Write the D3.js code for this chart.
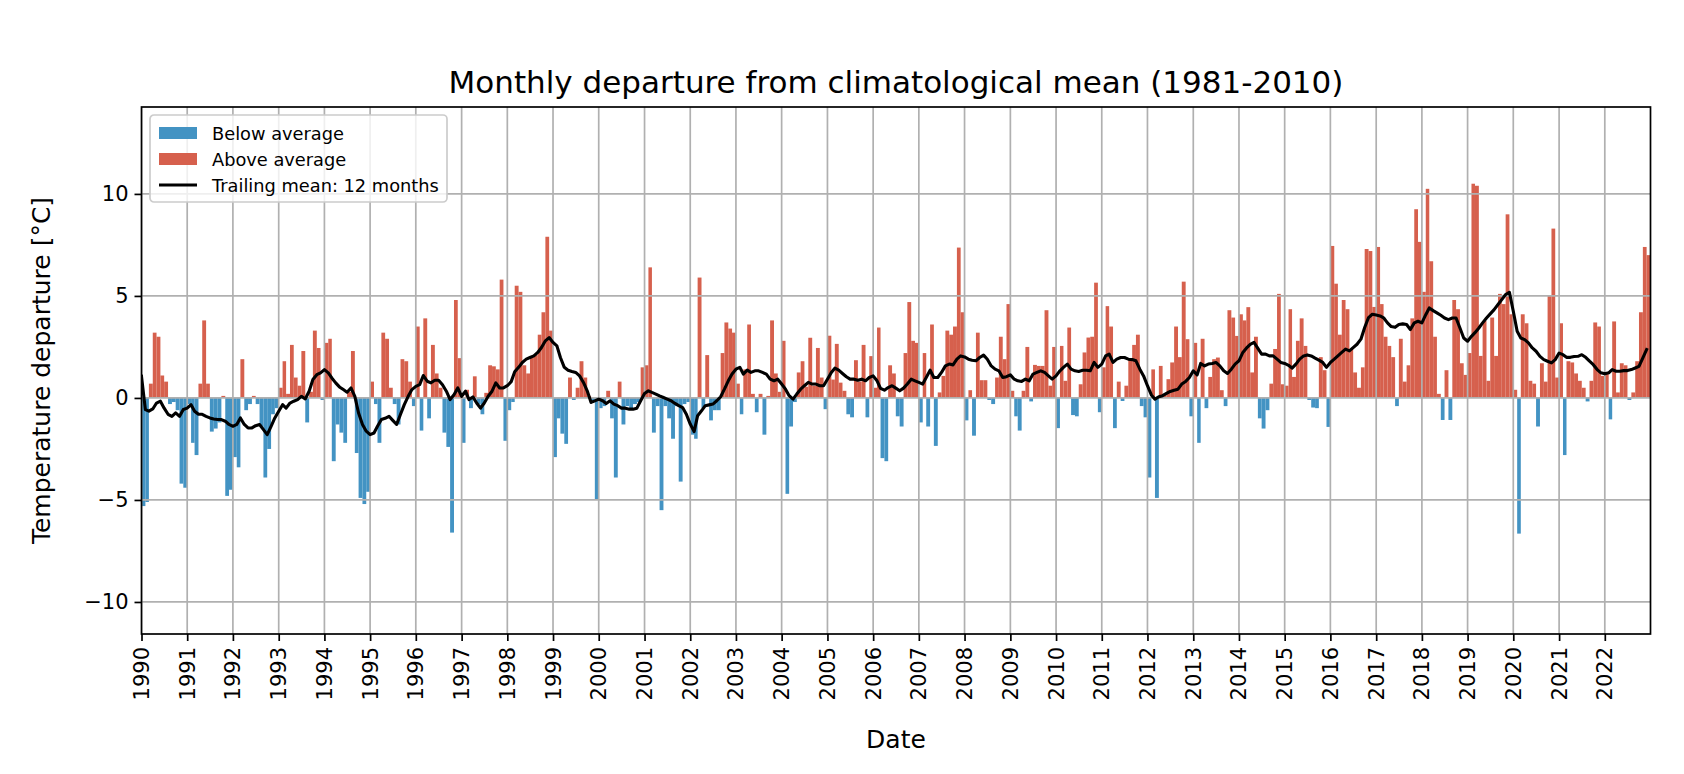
<!DOCTYPE html>
<html>
<head>
<meta charset="utf-8">
<script src="https://cdn.jsdelivr.net/npm/d3@7"></script>
<style>
  body { margin: 0; background: #fff; }
  svg { display: block; font-family: "DejaVu Sans", sans-serif; }
</style>
</head>
<body>
<svg id="chart" width="1684" height="774"></svg>
<script>
// Monthly departures [°C], one row per year, Jan..Dec, 1990..2022
const departures = [
  [-5.3, -5.1, 0.7, 3.2, 3.0, 1.1, 0.8, -0.3, -0.2, -0.6, -4.2, -4.4],
  [-0.3, -2.2, -2.8, 0.7, 3.8, 0.7, -1.65, -1.5, -1.2, 0.1, -4.8, -4.5],
  [-2.9, -3.4, 1.9, -0.6, -0.3, 0.1, -0.3, -1.4, -3.9, -2.5, -0.8, -0.5],
  [0.5, 1.8, 0.2, 2.6, 1.0, 0.6, 2.3, -1.2, 0.3, 3.3, 2.45, -0.1],
  [2.7, 2.9, -3.1, -1.3, -1.7, -2.2, 0.3, 2.3, -2.7, -4.9, -5.2, -4.6],
  [0.8, -0.3, -2.2, 3.2, 2.9, 0.5, -0.3, -1.3, 1.9, 1.8, 0.8, -0.4],
  [3.5, -1.6, 3.9, -1.0, 2.6, 1.2, 0.5, -1.7, -2.4, -6.6, 4.8, 1.95],
  [-2.2, 0.4, -0.5, 1.06, -0.3, -0.8, 0.25, 1.6, 1.55, 1.4, 5.8, -2.1],
  [-0.6, -0.2, 5.5, 5.2, 1.6, 1.2, 2.0, 2.1, 3.1, 4.2, 7.9, 3.3],
  [-2.9, -1.0, -1.75, -2.25, 1.0, -0.1, 0.5, 1.8, 1.0, 0.1, -0.2, -5.0],
  [-0.5, -0.4, 0.35, -1.0, -3.9, 0.8, -1.3, -0.4, -0.5, -0.3, -0.2, 1.5],
  [1.6, 6.4, -1.7, -0.4, -5.5, -0.4, -1.0, -2.0, -0.4, -4.1, -0.3, -0.2],
  [-1.8, -2.0, 5.9, -0.5, 2.1, -1.1, -0.6, -0.6, 2.2, 3.7, 3.4, 3.2],
  [0.7, -0.8, 1.4, 3.6, 0.2, -0.7, 0.2, -1.8, 0.1, 3.8, 1.2, 0.3],
  [2.8, -4.7, -1.4, -0.2, 1.25, 1.8, 0.55, 2.95, 0.6, 2.45, 1.0, -0.55],
  [3.05, 0.9, 2.65, 0.75, 0.35, -0.8, -0.95, 1.85, 0.8, 2.6, -0.95, 2.05],
  [0.5, 3.45, -2.95, -3.1, 1.6, 1.2, -0.9, -1.4, 2.2, 4.7, 2.8, 2.7],
  [-1.2, 2.2, -1.4, 3.6, -2.35, 0.27, 1.08, 3.3, 3.1, 3.5, 7.37, 4.2],
  [-1.1, 0.38, -1.85, 3.2, 0.87, 0.87, -0.1, -0.3, 1.0, 3.0, 1.9, 4.6],
  [0.35, -0.9, -1.6, 0.35, 2.5, -0.17, 1.62, 1.57, 1.57, 4.3, 0.6, 2.5],
  [-1.48, 2.55, 0.84, 3.45, -0.84, -0.9, 0.67, 2.23, 2.96, 3.0, 5.65, -0.7],
  [1.5, 4.5, 3.5, -1.48, 0.8, -0.15, 0.6, 1.9, 2.6, 3.1, -0.4, -0.95],
  [-3.9, 1.4, -4.9, 1.57, 0.2, 0.92, 1.74, 3.5, 2.0, 5.7, 2.88, -0.9],
  [2.7, -2.2, 2.9, -0.5, 1.03, 1.9, 1.98, 0.38, -0.4, 4.3, 3.94, 3.04],
  [4.1, 3.8, 4.45, 1.25, 3.0, -1.0, -1.5, -0.6, 0.7, 2.4, 5.1, 0.67],
  [0.6, 4.35, 1.03, 2.8, 3.9, 2.55, -0.1, -0.47, -0.5, 2.0, 1.36, -1.42],
  [7.45, 5.6, 3.1, 4.8, 4.35, 2.4, 1.25, 0.5, 1.5, 7.3, 7.2, 4.46],
  [7.4, 4.6, 3.0, 2.55, 2.0, -0.4, 2.9, 0.8, 1.6, 3.9, 9.25, 7.65],
  [5.2, 10.25, 6.7, 3.0, 0.2, -1.08, 1.36, -1.08, 4.8, 4.35, 1.7, 1.13],
  [2.2, 10.5, 10.4, 2.06, 3.77, 0.84, 3.94, 2.06, 5.1, 4.6, 9.0, 4.1],
  [0.4, -6.65, 4.1, 3.66, 0.84, 0.7, -1.4, 1.7, 0.8, 5.0, 8.3, 1.0],
  [3.66, -2.8, 1.8, 1.74, 1.2, 0.84, 0.5, -0.17, 0.84, 3.7, 3.5, 1.08],
  [1.25, -1.05, 3.75, 0.27, 1.7, 1.6, -0.1, 0.27, 1.8, 4.2, 7.4, 7.0]
];

// 12-month trailing mean [°C], same layout
const trailingMean = [
  [1.06, -0.57, -0.65, -0.54, -0.25, -0.16, -0.5, -0.8, -0.9, -0.73, -0.9, -0.57],
  [-0.5, -0.33, -0.65, -0.8, -0.8, -0.9, -0.98, -1.03, -1.06, -1.06, -1.14, -1.3],
  [-1.39, -1.3, -0.98, -1.3, -1.47, -1.47, -1.36, -1.3, -1.55, -1.8, -1.39, -0.98],
  [-0.65, -0.33, -0.5, -0.25, -0.16, -0.08, 0.08, -0.05, 0.33, 0.9, 1.14, 1.23],
  [1.39, 1.23, 0.98, 0.74, 0.54, 0.41, 0.28, 0.49, 0.08, -0.74, -1.3, -1.63],
  [-1.8, -1.72, -1.39, -1.06, -1.0, -0.9, -1.1, -1.3, -0.8, -0.33, 0.08, 0.41],
  [0.57, 0.65, 1.1, 0.82, 0.74, 0.87, 0.87, 0.65, 0.33, -0.08, 0.16, 0.49],
  [0.08, 0.33, -0.08, 0.05, -0.25, -0.5, -0.25, 0.08, 0.33, 0.74, 0.49, 0.49],
  [0.6, 0.8, 1.28, 1.5, 1.74, 1.9, 1.98, 2.06, 2.23, 2.47, 2.8, 2.96],
  [2.72, 2.55, 1.98, 1.5, 1.36, 1.3, 1.25, 1.08, 0.76, 0.35, -0.22, -0.14],
  [-0.06, -0.14, -0.27, -0.14, -0.3, -0.38, -0.5, -0.5, -0.55, -0.55, -0.5, -0.14],
  [0.22, 0.35, 0.27, 0.19, 0.1, 0.02, -0.06, -0.14, -0.27, -0.38, -0.47, -0.8],
  [-1.28, -1.65, -0.87, -0.63, -0.38, -0.34, -0.3, -0.14, 0.06, 0.43, 0.84, 1.17],
  [1.41, 1.5, 1.17, 1.36, 1.25, 1.33, 1.33, 1.25, 1.17, 0.92, 0.84, 0.92],
  [0.68, 0.43, 0.11, -0.06, 0.19, 0.43, 0.6, 0.76, 0.68, 0.68, 0.6, 0.6],
  [0.92, 1.25, 1.46, 1.36, 1.2, 1.04, 0.92, 0.92, 0.87, 0.92, 0.84, 1.0],
  [1.08, 0.84, 0.47, 0.38, 0.51, 0.6, 0.48, 0.35, 0.48, 0.68, 0.92, 0.84],
  [0.76, 0.68, 1.0, 1.36, 1.0, 1.0, 1.25, 1.57, 1.66, 1.62, 1.9, 2.06],
  [2.01, 1.9, 1.85, 1.82, 1.98, 2.1, 1.9, 1.57, 1.41, 1.33, 1.0, 1.04],
  [1.13, 0.92, 0.84, 0.81, 0.92, 0.84, 1.17, 1.25, 1.33, 1.25, 1.08, 0.92],
  [1.08, 1.33, 1.5, 1.66, 1.41, 1.33, 1.3, 1.36, 1.36, 1.33, 1.74, 1.5],
  [1.66, 2.06, 2.15, 1.74, 1.9, 1.98, 1.98, 1.9, 1.88, 1.82, 1.41, 1.08],
  [0.6, 0.15, -0.06, 0.06, 0.11, 0.22, 0.32, 0.38, 0.43, 0.68, 0.81, 1.0],
  [1.33, 1.13, 1.69, 1.57, 1.66, 1.69, 1.74, 1.57, 1.33, 1.2, 1.41, 1.66],
  [1.82, 2.23, 2.44, 2.63, 2.72, 2.43, 2.15, 2.15, 2.06, 2.06, 1.9, 1.74],
  [1.69, 1.6, 1.46, 1.66, 1.9, 2.06, 2.11, 2.06, 1.95, 1.85, 1.74, 1.5],
  [1.74, 1.9, 2.06, 2.23, 2.39, 2.31, 2.47, 2.63, 2.88, 3.45, 3.94, 4.1],
  [4.06, 4.02, 3.93, 3.68, 3.5, 3.46, 3.6, 3.63, 3.6, 3.35, 3.68, 3.76],
  [3.68, 4.08, 4.41, 4.28, 4.17, 4.05, 3.92, 3.84, 3.92, 3.92, 3.43, 2.94],
  [2.78, 3.02, 3.2, 3.43, 3.68, 3.92, 4.12, 4.33, 4.58, 4.82, 5.07, 5.18],
  [4.25, 3.27, 2.94, 2.86, 2.7, 2.45, 2.29, 2.04, 1.88, 1.8, 1.72, 1.88],
  [2.2, 2.12, 1.99, 1.99, 2.03, 2.04, 2.12, 1.99, 1.8, 1.63, 1.39, 1.23],
  [1.18, 1.23, 1.39, 1.31, 1.31, 1.34, 1.34, 1.39, 1.47, 1.55, 1.96, 2.37]
];

const startDate = new Date(1990, 0, 1);
const endDate = new Date(2023, 0, 1);
const yTicks = [-10, -5, 0, 5, 10];
const yDomain = [-11.57, 14.26];
const legendLabels = ["Below average", "Above average", "Trailing mean: 12 months"];

const titleText = "Monthly departure from climatological mean (1981-2010)";
const xLabelText = "Date";
const yLabelText = "Temperature departure [°C]";

const COLOR_BELOW = "#4393c3";
const COLOR_ABOVE = "#d6604d";
const GRID_COLOR = "#b0b0b0";

// Plot area (pixels)
const plot = { left: 141.5, right: 1650.5, top: 107, bottom: 634 };

const svg = d3.select("#chart");

const months = d3.timeMonth.range(startDate, endDate);
const years = d3.timeYear.range(startDate, endDate);

const values = departures.flat();
const meanValues = trailingMean.flat();
const series = months.map((d, i) => ({ date: d, value: values[i], mean: meanValues[i] }));

const x = d3.scaleTime().domain([startDate, endDate]).range([plot.left, plot.right]);
const y = d3.scaleLinear().domain(yDomain).range([plot.bottom, plot.top]);

// Clip for plot content
svg.append("defs").append("clipPath").attr("id", "plot-clip")
  .append("rect")
  .attr("x", plot.left).attr("y", plot.top)
  .attr("width", plot.right - plot.left).attr("height", plot.bottom - plot.top);

const content = svg.append("g").attr("clip-path", "url(#plot-clip)");

// Bars
content.append("g").selectAll("rect")
  .data(series)
  .enter()
  .append("rect")
  .attr("x", d => x(d.date))
  .attr("width", d => x(d3.timeMonth.offset(d.date, 1)) - x(d.date))
  .attr("y", d => y(Math.max(0, d.value)))
  .attr("height", d => Math.abs(y(d.value) - y(0)))
  .attr("fill", d => d.value < 0 ? COLOR_BELOW : COLOR_ABOVE);

// Grid (drawn above bars, like matplotlib)
const grid = content.append("g").attr("stroke", GRID_COLOR).attr("stroke-width", 1.7);
grid.selectAll("line.vgrid")
  .data(years)
  .enter()
  .append("line")
  .attr("class", "vgrid")
  .attr("x1", d => x(d)).attr("x2", d => x(d))
  .attr("y1", plot.top).attr("y2", plot.bottom);
grid.selectAll("line.hgrid")
  .data(yTicks)
  .enter()
  .append("line")
  .attr("class", "hgrid")
  .attr("x1", plot.left).attr("x2", plot.right)
  .attr("y1", d => y(d)).attr("y2", d => y(d));

// Trailing mean line
const line = d3.line()
  .x(d => x(d.date))
  .y(d => y(d.mean));

content.append("path")
  .datum(series)
  .attr("d", line)
  .attr("fill", "none")
  .attr("stroke", "#000")
  .attr("stroke-width", 3.1)
  .attr("stroke-linejoin", "round")
  .attr("stroke-linecap", "square");

// Axes
const xAxis = d3.axisBottom(x)
  .tickValues(years)
  .tickFormat(d3.timeFormat("%Y"))
  .tickSize(7)
  .tickPadding(6);

const gx = svg.append("g")
  .attr("transform", `translate(0,${plot.bottom})`)
  .call(xAxis);
gx.select(".domain").remove();
gx.selectAll(".tick line").attr("stroke", "#000").attr("stroke-width", 1.7);
gx.selectAll(".tick text")
  .attr("font-size", 21)
  .attr("font-family", "DejaVu Sans, sans-serif")
  .attr("fill", "#000")
  .attr("text-anchor", "end")
  .attr("dy", null)
  .attr("dominant-baseline", "central")
  .attr("transform", "translate(0,13) rotate(-90)")
  .attr("y", 0)
  .attr("x", 0);

const yAxis = d3.axisLeft(y)
  .tickValues(yTicks)
  .tickFormat(d => d < 0 ? "\u2212" + Math.abs(d) : String(d))
  .tickSize(7)
  .tickPadding(6);

const gy = svg.append("g")
  .attr("transform", `translate(${plot.left},0)`)
  .call(yAxis);
gy.select(".domain").remove();
gy.selectAll(".tick line").attr("stroke", "#000").attr("stroke-width", 1.7);
gy.selectAll(".tick text")
  .attr("font-size", 21)
  .attr("font-family", "DejaVu Sans, sans-serif")
  .attr("fill", "#000");

// Frame
svg.append("rect")
  .attr("x", plot.left).attr("y", plot.top)
  .attr("width", plot.right - plot.left).attr("height", plot.bottom - plot.top)
  .attr("fill", "none")
  .attr("stroke", "#000")
  .attr("stroke-width", 1.7);

// Title and axis labels
svg.append("text")
  .attr("x", (plot.left + plot.right) / 2)
  .attr("y", 84)
  .attr("text-anchor", "middle")
  .attr("dominant-baseline", "middle")
  .attr("font-size", 31)
  .attr("fill", "#000")
  .text(titleText);

svg.append("text")
  .attr("x", (plot.left + plot.right) / 2)
  .attr("y", 741)
  .attr("text-anchor", "middle")
  .attr("dominant-baseline", "middle")
  .attr("font-size", 25)
  .attr("fill", "#000")
  .text(xLabelText);

svg.append("text")
  .attr("transform", `translate(43,${(plot.top + plot.bottom) / 2}) rotate(-90)`)
  .attr("text-anchor", "middle")
  .attr("dominant-baseline", "middle")
  .attr("font-size", 25)
  .attr("fill", "#000")
  .text(yLabelText);

// Legend
const legend = svg.append("g").attr("transform", "translate(150,115)");
legend.append("rect")
  .attr("width", 297).attr("height", 87)
  .attr("rx", 4).attr("ry", 4)
  .attr("fill", "#fff").attr("fill-opacity", 0.8)
  .attr("stroke", "#cccccc").attr("stroke-width", 1.7);

const legendItems = [
  { label: legendLabels[0], type: "patch", color: COLOR_BELOW },
  { label: legendLabels[1], type: "patch", color: COLOR_ABOVE },
  { label: legendLabels[2], type: "line", color: "#000" }
];

const rows = legend.selectAll("g.item")
  .data(legendItems)
  .enter()
  .append("g")
  .attr("class", "item")
  .attr("transform", (d, i) => `translate(9,${18 + i * 26})`);

rows.filter(d => d.type === "patch").append("rect")
  .attr("x", 0).attr("y", -6)
  .attr("width", 38).attr("height", 12)
  .attr("fill", d => d.color);

rows.filter(d => d.type === "line").append("line")
  .attr("x1", 0).attr("x2", 38)
  .attr("y1", 0).attr("y2", 0)
  .attr("stroke", d => d.color)
  .attr("stroke-width", 3.1);

rows.append("text")
  .attr("x", 53)
  .attr("y", 0)
  .attr("dominant-baseline", "central")
  .attr("font-size", 17.8)
  .attr("fill", "#000")
  .text(d => d.label);
</script>
</body>
</html>
